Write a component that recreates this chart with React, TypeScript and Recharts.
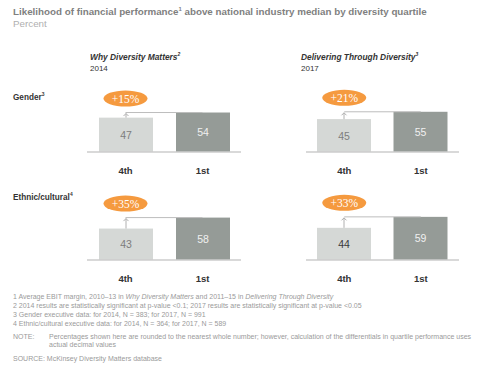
import React from 'react';
import { BarChart, Bar, XAxis, YAxis, ReferenceLine, ReferenceDot } from 'recharts';

// quartile categories and values (percent)
const quartiles = ['4th', '1st'];
const gender2014 = [47, 54];
const gender2017 = [45, 55];
const ethnic2014 = [43, 58];
const ethnic2017 = [44, 59];
const uplifts = ['+15%', '+21%', '+35%', '+33%'];

const Y_MAX = 93;
const LIGHT = '#d5d8d6';
const DARK = '#959b97';
const ORANGE = '#f59a3f';
const FONT = "'Liberation Sans', Arial, sans-serif";

interface PanelProps {
  values: number[];
  uplift: string;
  left: number;
  top: number;
  width: number;
  lowLabel: string;
}

function Panel({ values, uplift, left, top, width, lowLabel }: PanelProps) {
  const refVal = values[1];
  const data = quartiles.map((q, i) => ({ q, v: values[i], ref: refVal }));

  const shape = (p: any) => {
    const { x, y, width: w, height: h, payload } = p;
    const cx = x + w / 2;
    const isLow = payload.q === quartiles[0];
    let arrow = null;
    if (isLow) {
      const base = y + h;
      const yRef = base - (payload.ref * h) / payload.v;
      arrow = (
        <g stroke="#b0b0b0" strokeWidth={1} fill="none">
          <line x1={cx} y1={y} x2={cx} y2={yRef + 1} />
          <polyline points={`${cx - 2.5},${yRef + 3.5} ${cx},${yRef + 1} ${cx + 2.5},${yRef + 3.5}`} />
        </g>
      );
    }
    return (
      <g>
        <rect x={x} y={y} width={w} height={h} fill={isLow ? LIGHT : DARK} />
        <text
          x={cx}
          y={y + h / 2}
          textAnchor="middle"
          dominantBaseline="central"
          fontSize={10.5}
          fontFamily={FONT}
          fill={isLow ? lowLabel : '#f0f0f0'}
        >
          {payload.v}
        </text>
        {arrow}
      </g>
    );
  };

  const bubble = (p: any) => (
    <g>
      <ellipse cx={p.cx} cy={p.cy - 14} rx={22} ry={8} fill={ORANGE} />
      <text
        x={p.cx}
        y={p.cy - 14}
        textAnchor="middle"
        dominantBaseline="central"
        fill="#ffffff"
        fontSize={11.5}
        fontFamily="'Liberation Serif', serif"
      >
        {uplift}
      </text>
    </g>
  );

  return (
    <div style={{ position: 'absolute', left, top }}>
      <BarChart
        width={width}
        height={98}
        data={data}
        margin={{ top: 0, right: 0, bottom: 0, left: 0 }}
        style={{ overflow: 'visible' }}
      >
        <XAxis
          dataKey="q"
          axisLine={{ stroke: '#cdcdcd', strokeWidth: 1.5 }}
          tickLine={false}
          tickMargin={9}
          height={30}
          interval={0}
          tick={{ fontSize: 9.5, fontWeight: 'bold', fill: '#333', fontFamily: FONT }}
        />
        <YAxis hide domain={[0, Y_MAX]} />
        <Bar dataKey="v" barSize={54} shape={shape} isAnimationActive={false} />
        <ReferenceLine
          segment={[
            { x: quartiles[0], y: refVal },
            { x: quartiles[1], y: refVal },
          ]}
          stroke="#bdbdbd"
          ifOverflow="visible"
        />
        <ReferenceDot x={quartiles[0]} y={refVal} shape={bubble} ifOverflow="visible" />
      </BarChart>
    </div>
  );
}

const sup = { fontSize: '0.6em', verticalAlign: 'super', lineHeight: 0 } as const;

function Line({ top, left = 13, size = 7, color = '#9a9a9a', children, style }: any) {
  return (
    <div
      style={{
        position: 'absolute',
        top,
        left,
        fontSize: size,
        lineHeight: '10px',
        color,
        whiteSpace: 'nowrap',
        ...style,
      }}
    >
      {children}
    </div>
  );
}

export default function App() {
  return (
    <div
      style={{
        position: 'absolute',
        left: 0,
        top: 0,
        width: 483,
        height: 369,
        background: '#fff',
        fontFamily: FONT,
        overflow: 'hidden',
      }}
    >
      <Line top={7} size={9.8} color="#7f7f7f" style={{ fontWeight: 'bold' }}>
        Likelihood of financial performance<span style={sup}>1</span> above national industry median by diversity quartile
      </Line>
      <Line top={19} size={9.8} color="#b0b0b0">
        Percent
      </Line>

      <Line top={52} left={90} size={8.4} color="#333" style={{ fontWeight: 'bold', fontStyle: 'italic' }}>
        Why Diversity Matters<span style={sup}>2</span>
      </Line>
      <Line top={64} left={90} size={8} color="#333">
        2014
      </Line>
      <Line top={52} left={301} size={8.4} color="#333" style={{ fontWeight: 'bold', fontStyle: 'italic' }}>
        Delivering Through Diversity<span style={sup}>3</span>
      </Line>
      <Line top={64} left={301} size={8} color="#333">
        2017
      </Line>

      <Line top={93} size={8.2} color="#333" style={{ fontWeight: 'bold' }}>
        Gender<span style={sup}>3</span>
      </Line>
      <Line top={193} size={8.2} color="#333" style={{ fontWeight: 'bold' }}>
        Ethnic/cultural<span style={sup}>4</span>
      </Line>

      <Panel values={gender2014} uplift={uplifts[0]} left={87} top={84} width={154} lowLabel="#7d7d7d" />
      <Panel values={gender2017} uplift={uplifts[1]} left={306} top={84} width={153} lowLabel="#7d7d7d" />
      <Panel values={ethnic2014} uplift={uplifts[2]} left={87} top={192} width={154} lowLabel="#7d7d7d" />
      <Panel values={ethnic2017} uplift={uplifts[3]} left={306} top={192} width={153} lowLabel="#3a3a3a" />

      <Line top={292}>
        1 Average EBIT margin, 2010–13 in <i>Why Diversity Matters</i> and 2011–15 in <i>Delivering Through Diversity</i>
      </Line>
      <Line top={301}>
        2 2014 results are statistically significant at p-value &lt;0.1; 2017 results are statistically significant at p-value &lt;0.05
      </Line>
      <Line top={309.5}>3 Gender executive data: for 2014, N = 383; for 2017, N = 991</Line>
      <Line top={318.5}>4 Ethnic/cultural executive data: for 2014, N = 364; for 2017, N = 589</Line>
      <Line top={332}>NOTE:</Line>
      <Line top={332} left={49}>
        Percentages shown here are rounded to the nearest whole number; however, calculation of the differentials in quartile performance uses
      </Line>
      <Line top={340} left={49}>
        actual decimal values
      </Line>
      <Line top={354}>SOURCE: McKinsey Diversity Matters database</Line>
    </div>
  );
}
